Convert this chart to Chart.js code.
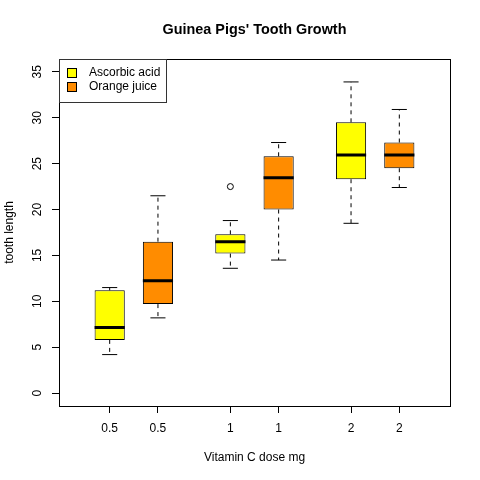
<!DOCTYPE html>
<html><head><meta charset="utf-8">
<script src="https://cdn.jsdelivr.net/npm/chart.js@4/dist/chart.umd.min.js"></script>
<style>html,body{margin:0;padding:0;background:#fff}</style>
</head><body>
<canvas id="c" width="480" height="480"></canvas>
<script>
// ---- data (ToothGrowth, boxplot five-number summaries) ----
const seriesNames = ['Ascorbic acid', 'Orange juice'];
const doseLabels = ['0.5', '0.5', '1', '1', '2', '2'];
const vcPositions = [0.8, 1.8, 2.8];
const ojPositions = [1.2, 2.2, 3.2];
const vcMin = [4.2, 13.6, 18.5];
const vcQ1 = [5.8, 15.2, 23.3];
const vcMedian = [7.15, 16.5, 25.95];
const vcQ3 = [11.2, 17.3, 29.5];
const vcMax = [11.5, 18.8, 33.9];
const ojMin = [8.2, 14.5, 22.4];
const ojQ1 = [9.7, 20.0, 24.5];
const ojMedian = [12.25, 23.45, 25.95];
const ojQ3 = [16.5, 25.8, 27.3];
const ojMax = [21.5, 27.3, 30.9];
const outlierX = [1.8];
const outlierY = [22.5];
const yTicks = [0, 5, 10, 15, 20, 25, 30, 35];

// ---- styling constants ----
const BOXWEX = 0.25;
const colVC = '#FFFF00';
const colOJ = '#FF8C00';
const FONT = "'Liberation Sans', Arial, Helvetica, sans-serif";
Chart.defaults.font.family = FONT;
Chart.defaults.font.size = 12;
Chart.defaults.color = '#000';

const tickPositions = [];
vcPositions.forEach((p, i) => { tickPositions.push(p, ojPositions[i]); });

function boxData(pos, q1, q3) { return pos.map((x, i) => ({ x: x, y: [q1[i], q3[i]] })); }
function whiskerData(pos, lo, q1, q3, hi) {
  const out = [];
  pos.forEach((x, i) => {
    out.push({ x: x, y: q3[i] }, { x: x, y: hi[i] }, { x: x, y: null });
    out.push({ x: x, y: q1[i] }, { x: x, y: lo[i] }, { x: x, y: null });
  });
  return out;
}
function hSegData(pos, vals, half) {
  const out = [];
  pos.forEach((x, i) => {
    vals.forEach(v => {
      out.push({ x: x - half, y: v[i] }, { x: x + half, y: v[i] }, { x: x, y: null });
    });
  });
  return out;
}
function swatch(color) {
  const c = document.createElement('canvas');
  c.width = 10; c.height = 10;
  const g = c.getContext('2d');
  g.fillStyle = '#000'; g.fillRect(0, 0, 10, 10);
  g.fillStyle = color; g.fillRect(1, 1, 8, 8);
  return c;
}
const swatches = [swatch(colVC), swatch(colOJ)];

const lineCommon = { type: 'line', pointRadius: 0, pointHoverRadius: 0, pointHitRadius: 0,
  spanGaps: false, tension: 0, borderColor: '#000', fill: false, borderCapStyle: 'butt' };

const framePlugin = {
  id: 'frame',
  beforeDraw(chart) {
    const ctx = chart.ctx;
    ctx.save(); ctx.fillStyle = '#fff'; ctx.fillRect(0, 0, chart.width, chart.height); ctx.restore();
  },
  afterDraw(chart) {
    const ctx = chart.ctx, ca = chart.chartArea;
    ctx.save();
    ctx.strokeStyle = '#000'; ctx.lineWidth = 1;
    const l = Math.round(ca.left) + 0.5, t = Math.round(ca.top) + 0.5;
    const r = Math.round(ca.right) + 0.5, b = Math.round(ca.bottom) + 0.5;
    ctx.strokeRect(l, t, r - l, b - t);
    const hb = chart.legend && chart.legend.legendHitBoxes;
    if (hb && hb.length) {
      const lr = Math.round(Math.max(...hb.map(h => h.left + h.width)) + 6) + 0.5;
      const last = hb[hb.length - 1];
      const lb = Math.round(last.top + last.height + 8.5) + 0.5;
      ctx.strokeStyle = '#333';
      ctx.strokeRect(l, t, lr - l, lb - t);
    }
    ctx.restore();
  }
};

new Chart(document.getElementById('c'), {
  type: 'bar',
  data: {
    datasets: [
      { label: seriesNames[0], data: boxData(vcPositions, vcQ1, vcQ3), backgroundColor: colVC,
        borderColor: '#000', borderWidth: 1, borderSkipped: false, grouped: false,
        barPercentage: 0.625, categoryPercentage: 1, order: 5 },
      { label: seriesNames[1], data: boxData(ojPositions, ojQ1, ojQ3), backgroundColor: colOJ,
        borderColor: '#000', borderWidth: 1, borderSkipped: false, grouped: false,
        barPercentage: 0.625, categoryPercentage: 1, order: 5 },
      Object.assign({ label: 'whiskers', borderWidth: 1, borderDash: [4, 4], order: 4,
        data: whiskerData(vcPositions, vcMin, vcQ1, vcQ3, vcMax).concat(whiskerData(ojPositions, ojMin, ojQ1, ojQ3, ojMax)) }, lineCommon),
      Object.assign({ label: 'staples', borderWidth: 1, order: 3,
        data: hSegData(vcPositions, [vcMin, vcMax], BOXWEX / 4).concat(hSegData(ojPositions, [ojMin, ojMax], BOXWEX / 4)) }, lineCommon),
      Object.assign({ label: 'medians', borderWidth: 3, order: 1,
        data: hSegData(vcPositions, [vcMedian], BOXWEX / 2).concat(hSegData(ojPositions, [ojMedian], BOXWEX / 2)) }, lineCommon),
      { type: 'scatter', label: 'outliers', data: outlierX.map((x, i) => ({ x: x, y: outlierY[i] })),
        pointRadius: 3, pointStyle: 'circle', backgroundColor: 'rgba(0,0,0,0)', borderColor: '#000',
        borderWidth: 1, showLine: false, order: 0 }
    ]
  },
  options: {
    responsive: false, animation: false, devicePixelRatio: 1,
    layout: { padding: { left: 0, right: 30, top: 0, bottom: 0 } },
    events: [],
    plugins: {
      tooltip: { enabled: false },
      title: { display: true, text: "Guinea Pigs' Tooth Growth", fullSize: false, color: '#000',
        font: { size: 14.4, weight: 'bold' }, padding: { top: 21.2, bottom: 20.5 } },
      legend: {
        position: 'chartArea', align: 'start',
        title: { display: true, text: '', font: { size: 1 }, padding: { top: 59, bottom: 4.8 } },
        labels: {
          usePointStyle: true, pointStyleWidth: 22, padding: 2, color: '#000',
          font: { size: 12 },
          generateLabels(chart) {
            const items = Chart.defaults.plugins.legend.labels.generateLabels(chart)
              .filter(it => it.datasetIndex < 2);
            items.forEach(it => { it.pointStyle = swatches[it.datasetIndex]; });
            return items;
          }
        }
      }
    },
    scales: {
      x: {
        type: 'linear', min: 0.38, max: 3.62, offset: false,
        afterBuildTicks(s) { s.ticks = tickPositions.map(v => ({ value: v })); },
        afterFit(s) { s.height = 74; },
        ticks: { autoSkip: false, minRotation: 0, maxRotation: 0, padding: 8.8, color: '#000',
          font: { size: 12 }, callback: (v, i) => doseLabels[i] },
        grid: { display: true, offset: false, drawOnChartArea: false, drawTicks: true, tickLength: 7, color: '#000', lineWidth: 1 },
        border: { display: false },
        title: { display: true, text: 'Vitamin C dose mg', color: '#000', font: { size: 12 }, padding: { top: 0, bottom: 15.3 } }
      },
      y: {
        type: 'linear', min: -1.4, max: 36.4, stacked: false,
        afterBuildTicks(s) { s.ticks = yTicks.map(v => ({ value: v })); },
        afterFit(s) { s.width = 59; },
        ticks: { minRotation: 90, maxRotation: 90, crossAlign: 'center', padding: 7.3, color: '#000',
          font: { size: 12 }, callback: v => String(v) },
        grid: { display: true, drawOnChartArea: false, drawTicks: true, tickLength: 7, color: '#000', lineWidth: 1 },
        border: { display: false },
        title: { display: true, text: 'tooth length', color: '#000', font: { size: 12 }, padding: { top: 2, bottom: 0 } }
      }
    }
  },
  plugins: [framePlugin]
});
</script>
</body></html>
